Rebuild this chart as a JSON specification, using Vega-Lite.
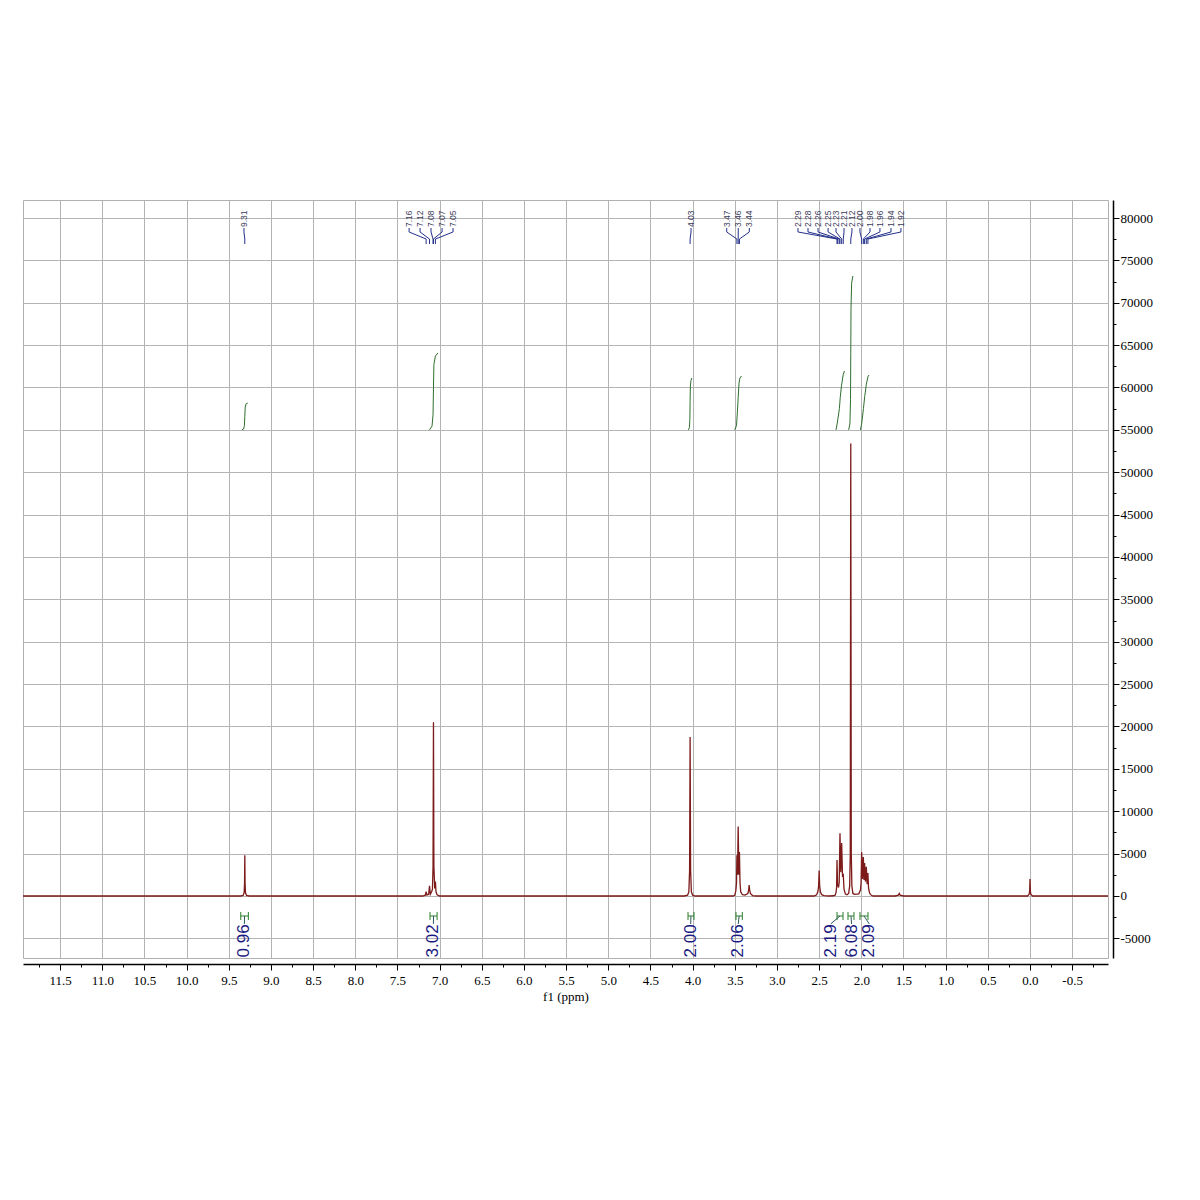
{
  "$schema": "https://vega.github.io/schema/vega-lite/v6.json",
  "width": 1085,
  "height": 758,
  "autosize": {"type": "none"},
  "padding": {"left": 23, "top": 200, "right": 92, "bottom": 242},
  "background": "white",
  "config": {"view": {"stroke": "#b0b0b0", "strokeWidth": 1}, "font": "Liberation Serif"},
  "datasets": {
    "spec": [
      {"ppm": 11.94, "v": 0}, {"ppm": 9.36, "v": 0}, {"ppm": 9.33, "v": 60}, {"ppm": 9.318, "v": 400}, {"ppm": 9.313, "v": 1500}, {"ppm": 9.31, "v": 4800}, {"ppm": 9.307, "v": 1500}, {"ppm": 9.302, "v": 400}, {"ppm": 9.29, "v": 60}, {"ppm": 9.26, "v": 0},
      {"ppm": 7.2, "v": 0}, {"ppm": 7.17, "v": 100}, {"ppm": 7.16, "v": 500}, {"ppm": 7.15, "v": 100}, {"ppm": 7.13, "v": 200}, {"ppm": 7.12, "v": 1200}, {"ppm": 7.11, "v": 200}, {"ppm": 7.095, "v": 500}, {"ppm": 7.085, "v": 800}, {"ppm": 7.078, "v": 3500}, {"ppm": 7.073, "v": 20500}, {"ppm": 7.068, "v": 3500}, {"ppm": 7.058, "v": 900}, {"ppm": 7.05, "v": 1700}, {"ppm": 7.043, "v": 500}, {"ppm": 7.03, "v": 150}, {"ppm": 7.0, "v": 0},
      {"ppm": 4.1, "v": 0}, {"ppm": 4.06, "v": 100}, {"ppm": 4.045, "v": 500}, {"ppm": 4.036, "v": 3000}, {"ppm": 4.03, "v": 18760}, {"ppm": 4.024, "v": 3000}, {"ppm": 4.015, "v": 500}, {"ppm": 4.0, "v": 100}, {"ppm": 3.97, "v": 0},
      {"ppm": 3.52, "v": 0}, {"ppm": 3.5, "v": 100}, {"ppm": 3.488, "v": 600}, {"ppm": 3.48, "v": 1500}, {"ppm": 3.475, "v": 4800}, {"ppm": 3.468, "v": 2500}, {"ppm": 3.46, "v": 8200}, {"ppm": 3.452, "v": 2500}, {"ppm": 3.445, "v": 5200}, {"ppm": 3.438, "v": 1500}, {"ppm": 3.43, "v": 500}, {"ppm": 3.41, "v": 150}, {"ppm": 3.38, "v": 100}, {"ppm": 3.345, "v": 300}, {"ppm": 3.336, "v": 700}, {"ppm": 3.33, "v": 1300}, {"ppm": 3.324, "v": 700}, {"ppm": 3.315, "v": 300}, {"ppm": 3.29, "v": 50}, {"ppm": 3.25, "v": 0},
      {"ppm": 2.56, "v": 0}, {"ppm": 2.53, "v": 150}, {"ppm": 2.515, "v": 500}, {"ppm": 2.506, "v": 1200}, {"ppm": 2.5, "v": 3000}, {"ppm": 2.494, "v": 1200}, {"ppm": 2.485, "v": 500}, {"ppm": 2.47, "v": 150}, {"ppm": 2.44, "v": 50},
      {"ppm": 2.38, "v": 0}, {"ppm": 2.33, "v": 30}, {"ppm": 2.31, "v": 100}, {"ppm": 2.3, "v": 400}, {"ppm": 2.293, "v": 1000}, {"ppm": 2.288, "v": 4250}, {"ppm": 2.282, "v": 1400}, {"ppm": 2.27, "v": 1000}, {"ppm": 2.262, "v": 1600}, {"ppm": 2.253, "v": 7400}, {"ppm": 2.243, "v": 2800}, {"ppm": 2.233, "v": 6250}, {"ppm": 2.223, "v": 2400}, {"ppm": 2.214, "v": 2500}, {"ppm": 2.205, "v": 800}, {"ppm": 2.19, "v": 250}, {"ppm": 2.17, "v": 150},
      {"ppm": 2.15, "v": 300}, {"ppm": 2.138, "v": 1200}, {"ppm": 2.131, "v": 5000}, {"ppm": 2.125, "v": 53400}, {"ppm": 2.119, "v": 5000}, {"ppm": 2.112, "v": 1200}, {"ppm": 2.1, "v": 300}, {"ppm": 2.08, "v": 200},
      {"ppm": 2.03, "v": 250}, {"ppm": 2.01, "v": 700}, {"ppm": 2.003, "v": 1500}, {"ppm": 1.996, "v": 5200}, {"ppm": 1.986, "v": 2000}, {"ppm": 1.976, "v": 4600}, {"ppm": 1.968, "v": 1900}, {"ppm": 1.961, "v": 3900}, {"ppm": 1.951, "v": 1700}, {"ppm": 1.941, "v": 3450}, {"ppm": 1.931, "v": 1400}, {"ppm": 1.922, "v": 2700}, {"ppm": 1.914, "v": 900}, {"ppm": 1.9, "v": 300}, {"ppm": 1.88, "v": 80}, {"ppm": 1.86, "v": 0},
      {"ppm": 1.6, "v": 0}, {"ppm": 1.56, "v": 100}, {"ppm": 1.55, "v": 300}, {"ppm": 1.54, "v": 100}, {"ppm": 1.5, "v": 0},
      {"ppm": 0.03, "v": 0}, {"ppm": 0.01, "v": 200}, {"ppm": 0.004, "v": 600}, {"ppm": 0.0, "v": 2000}, {"ppm": -0.004, "v": 600}, {"ppm": -0.01, "v": 200}, {"ppm": -0.03, "v": 0}, {"ppm": -0.925, "v": 0}
    ],
    "integ": [
      {"g": "a", "ppm": 9.345, "v": 55000}, {"g": "a", "ppm": 9.325, "v": 55100}, {"g": "a", "ppm": 9.315, "v": 55480}, {"g": "a", "ppm": 9.31, "v": 56585}, {"g": "a", "ppm": 9.305, "v": 57690}, {"g": "a", "ppm": 9.295, "v": 58075}, {"g": "a", "ppm": 9.275, "v": 58170},
      {"g": "b", "ppm": 7.12, "v": 55000}, {"g": "b", "ppm": 7.09, "v": 55450}, {"g": "b", "ppm": 7.078, "v": 56810}, {"g": "b", "ppm": 7.073, "v": 59990}, {"g": "b", "ppm": 7.068, "v": 62710}, {"g": "b", "ppm": 7.05, "v": 63710}, {"g": "b", "ppm": 7.02, "v": 64070},
      {"g": "c", "ppm": 4.05, "v": 55000}, {"g": "c", "ppm": 4.038, "v": 55300}, {"g": "c", "ppm": 4.033, "v": 56220}, {"g": "c", "ppm": 4.03, "v": 58370}, {"g": "c", "ppm": 4.027, "v": 60160}, {"g": "c", "ppm": 4.02, "v": 60820}, {"g": "c", "ppm": 4.01, "v": 61120},
      {"g": "d", "ppm": 3.5, "v": 55000}, {"g": "d", "ppm": 3.48, "v": 55500}, {"g": "d", "ppm": 3.47, "v": 57000}, {"g": "d", "ppm": 3.46, "v": 58800}, {"g": "d", "ppm": 3.45, "v": 60500}, {"g": "d", "ppm": 3.44, "v": 61100}, {"g": "d", "ppm": 3.42, "v": 61360},
      {"g": "e", "ppm": 2.3, "v": 55000}, {"g": "e", "ppm": 2.285, "v": 55800}, {"g": "e", "ppm": 2.26, "v": 57500}, {"g": "e", "ppm": 2.25, "v": 58800}, {"g": "e", "ppm": 2.235, "v": 60200}, {"g": "e", "ppm": 2.215, "v": 61500}, {"g": "e", "ppm": 2.2, "v": 61950},
      {"g": "f", "ppm": 2.15, "v": 55000}, {"g": "f", "ppm": 2.135, "v": 55700}, {"g": "f", "ppm": 2.128, "v": 58600}, {"g": "f", "ppm": 2.125, "v": 64000}, {"g": "f", "ppm": 2.122, "v": 69400}, {"g": "f", "ppm": 2.115, "v": 72300}, {"g": "f", "ppm": 2.1, "v": 73160},
      {"g": "h", "ppm": 2.01, "v": 55000}, {"g": "h", "ppm": 1.995, "v": 55800}, {"g": "h", "ppm": 1.975, "v": 57500}, {"g": "h", "ppm": 1.96, "v": 58900}, {"g": "h", "ppm": 1.94, "v": 60400}, {"g": "h", "ppm": 1.92, "v": 61300}, {"g": "h", "ppm": 1.91, "v": 61470}
    ],
    "plabels": [
      {"t": "9.31", "ppm": 9.32, "peak": 9.31, "top": 78940, "y1": 78820, "y2": 78350, "y3": 77520, "y4": 76930},
      {"t": "7.16", "ppm": 7.362, "peak": 7.16, "top": 78940, "y1": 78820, "y2": 78350, "y3": 77520, "y4": 76930},
      {"t": "7.12", "ppm": 7.232, "peak": 7.12, "top": 78940, "y1": 78820, "y2": 78350, "y3": 77520, "y4": 76930},
      {"t": "7.08", "ppm": 7.102, "peak": 7.078, "top": 78940, "y1": 78820, "y2": 78350, "y3": 77520, "y4": 76930},
      {"t": "7.07", "ppm": 6.971, "peak": 7.073, "top": 78940, "y1": 78820, "y2": 78350, "y3": 77520, "y4": 76930},
      {"t": "7.05", "ppm": 6.841, "peak": 7.05, "top": 78940, "y1": 78820, "y2": 78350, "y3": 77520, "y4": 76930},
      {"t": "4.03", "ppm": 4.019, "peak": 4.03, "top": 78940, "y1": 78820, "y2": 78350, "y3": 77520, "y4": 76930},
      {"t": "3.47", "ppm": 3.596, "peak": 3.475, "top": 78940, "y1": 78820, "y2": 78350, "y3": 77520, "y4": 76930},
      {"t": "3.46", "ppm": 3.459, "peak": 3.46, "top": 78940, "y1": 78820, "y2": 78350, "y3": 77520, "y4": 76930},
      {"t": "3.44", "ppm": 3.328, "peak": 3.445, "top": 78940, "y1": 78820, "y2": 78350, "y3": 77520, "y4": 76930},
      {"t": "2.29", "ppm": 2.751, "peak": 2.288, "top": 78940, "y1": 78820, "y2": 78350, "y3": 77520, "y4": 76930},
      {"t": "2.28", "ppm": 2.632, "peak": 2.28, "top": 78940, "y1": 78820, "y2": 78350, "y3": 77520, "y4": 76930},
      {"t": "2.26", "ppm": 2.513, "peak": 2.262, "top": 78940, "y1": 78820, "y2": 78350, "y3": 77520, "y4": 76930},
      {"t": "2.25", "ppm": 2.394, "peak": 2.253, "top": 78940, "y1": 78820, "y2": 78350, "y3": 77520, "y4": 76930},
      {"t": "2.23", "ppm": 2.3, "peak": 2.233, "top": 78940, "y1": 78820, "y2": 78350, "y3": 77520, "y4": 76930},
      {"t": "2.21", "ppm": 2.205, "peak": 2.214, "top": 78940, "y1": 78820, "y2": 78350, "y3": 77520, "y4": 76930},
      {"t": "2.12", "ppm": 2.111, "peak": 2.125, "top": 78940, "y1": 78820, "y2": 78350, "y3": 77520, "y4": 76930},
      {"t": "2.00", "ppm": 2.016, "peak": 1.996, "top": 78940, "y1": 78820, "y2": 78350, "y3": 77520, "y4": 76930},
      {"t": "1.98", "ppm": 1.897, "peak": 1.976, "top": 78940, "y1": 78820, "y2": 78350, "y3": 77520, "y4": 76930},
      {"t": "1.96", "ppm": 1.779, "peak": 1.961, "top": 78940, "y1": 78820, "y2": 78350, "y3": 77520, "y4": 76930},
      {"t": "1.94", "ppm": 1.648, "peak": 1.941, "top": 78940, "y1": 78820, "y2": 78350, "y3": 77520, "y4": 76930},
      {"t": "1.92", "ppm": 1.53, "peak": 1.922, "top": 78940, "y1": 78820, "y2": 78350, "y3": 77520, "y4": 76930}
    ],
    "ilabels": [
      {"t": "0.96", "lo": 9.358, "hi": 9.268, "mid": 9.313, "ppm": 9.315, "vb": -2360, "c1": -1890, "c2": -2830, "vl": -3300, "vt": -7250},
      {"t": "3.02", "lo": 7.114, "hi": 7.03, "mid": 7.072, "ppm": 7.074, "vb": -2360, "c1": -1890, "c2": -2830, "vl": -3300, "vt": -7250},
      {"t": "2.00", "lo": 4.055, "hi": 3.984, "mid": 4.02, "ppm": 4.023, "vb": -2360, "c1": -1890, "c2": -2830, "vl": -3300, "vt": -7250},
      {"t": "2.06", "lo": 3.486, "hi": 3.411, "mid": 3.449, "ppm": 3.459, "vb": -2360, "c1": -1890, "c2": -2830, "vl": -3300, "vt": -7250},
      {"t": "2.19", "lo": 2.288, "hi": 2.217, "mid": 2.253, "ppm": 2.363, "vb": -2360, "c1": -1890, "c2": -2830, "vl": -3300, "vt": -7250},
      {"t": "6.08", "lo": 2.158, "hi": 2.087, "mid": 2.123, "ppm": 2.115, "vb": -2360, "c1": -1890, "c2": -2830, "vl": -3300, "vt": -7250},
      {"t": "2.09", "lo": 2.016, "hi": 1.921, "mid": 1.968, "ppm": 1.905, "vb": -2360, "c1": -1890, "c2": -2830, "vl": -3300, "vt": -7250}
    ]
  },
  "encoding": {
    "x": {
      "field": "ppm", "type": "quantitative",
      "scale": {"domain": [-0.925, 11.94], "reverse": true, "nice": false, "zero": false},
      "axis": {
        "values": [-0.75, -0.5, -0.25, 0, 0.25, 0.5, 0.75, 1, 1.25, 1.5, 1.75, 2, 2.25, 2.5, 2.75, 3, 3.25, 3.5, 3.75, 4, 4.25, 4.5, 4.75, 5, 5.25, 5.5, 5.75, 6, 6.25, 6.5, 6.75, 7, 7.25, 7.5, 7.75, 8, 8.25, 8.5, 8.75, 9, 9.25, 9.5, 9.75, 10, 10.25, 10.5, 10.75, 11, 11.25, 11.5, 11.75],
        "labelExpr": "datum.value % 0.5 == 0 ? (datum.value < 0 ? '-' + format(-datum.value, '.1f') : format(datum.value, '.1f')) : ''",
        "tickSize": {"condition": {"test": "datum.value % 0.5 == 0", "value": 6}, "value": 3},
        "gridOpacity": {"condition": {"test": "datum.value % 0.5 == 0", "value": 1}, "value": 0},
        "grid": true, "gridColor": "#b4b4b4", "gridWidth": 1,
        "domainColor": "black", "domainWidth": 1.5, "tickColor": "black", "tickWidth": 1,
        "labelFont": "Liberation Serif", "labelFontSize": 13, "labelColor": "black", "labelPadding": 4,
        "labelFlush": false, "labelOverlap": false, "labelBound": false,
        "offset": 6,
        "title": "f1 (ppm)", "titleFont": "Liberation Serif", "titleFontSize": 13, "titleFontWeight": "normal", "titleColor": "black", "titlePadding": 3
      }
    },
    "y": {
      "field": "v", "type": "quantitative",
      "scale": {"domain": [-7316, 82124], "nice": false, "zero": false},
      "axis": {
        "orient": "right",
        "values": [-5000, -2500, 0, 2500, 5000, 7500, 10000, 12500, 15000, 17500, 20000, 22500, 25000, 27500, 30000, 32500, 35000, 37500, 40000, 42500, 45000, 47500, 50000, 52500, 55000, 57500, 60000, 62500, 65000, 67500, 70000, 72500, 75000, 77500, 80000],
        "labelExpr": "datum.value % 5000 == 0 ? (datum.value < 0 ? '-' + (-datum.value) : '' + datum.value) : ''",
        "tickSize": {"condition": {"test": "datum.value % 5000 == 0", "value": 6}, "value": 3},
        "gridOpacity": {"condition": {"test": "datum.value % 5000 == 0", "value": 1}, "value": 0},
        "grid": true, "gridColor": "#b4b4b4", "gridWidth": 1,
        "domainColor": "black", "domainWidth": 1.5, "tickColor": "black", "tickWidth": 1,
        "labelFont": "Liberation Serif", "labelFontSize": 13, "labelColor": "black", "labelPadding": 1,
        "labelOverlap": false, "labelBound": false,
        "offset": 5,
        "title": null
      }
    }
  },
  "layer": [
    {
      "data": {"name": "spec"},
      "mark": {"type": "line", "color": "#7d1a1a", "strokeWidth": 1.3}
    },
    {
      "data": {"name": "integ"},
      "mark": {"type": "line", "color": "#2f6e2f", "strokeWidth": 1},
      "encoding": {"detail": {"field": "g"}}
    },
    {
      "data": {"name": "plabels"},
      "mark": {"type": "rule", "color": "#24308a", "strokeWidth": 1},
      "encoding": {"y": {"field": "y1", "type": "quantitative"}, "y2": {"field": "y2"}}
    },
    {
      "data": {"name": "plabels"},
      "mark": {"type": "rule", "color": "#24308a", "strokeWidth": 1},
      "encoding": {"y": {"field": "y2", "type": "quantitative"}, "x2": {"field": "peak"}, "y2": {"field": "y3"}}
    },
    {
      "data": {"name": "plabels"},
      "mark": {"type": "rule", "color": "#24308a", "strokeWidth": 1},
      "encoding": {"x": {"field": "peak", "type": "quantitative"}, "y": {"field": "y3", "type": "quantitative"}, "y2": {"field": "y4"}}
    },
    {
      "data": {"name": "plabels"},
      "mark": {"type": "text", "angle": 270, "align": "left", "baseline": "middle", "font": "Liberation Sans", "fontSize": 8.5, "color": "#3a3a5a"},
      "encoding": {"y": {"field": "top", "type": "quantitative"}, "text": {"field": "t"}}
    },
    {
      "data": {"name": "ilabels"},
      "mark": {"type": "rule", "color": "#2a7d2a", "strokeWidth": 1},
      "encoding": {"x": {"field": "lo", "type": "quantitative"}, "x2": {"field": "hi"}, "y": {"field": "vb", "type": "quantitative"}}
    },
    {
      "data": {"name": "ilabels"},
      "mark": {"type": "rule", "color": "#2a7d2a", "strokeWidth": 1},
      "encoding": {"x": {"field": "lo", "type": "quantitative"}, "y": {"field": "c1", "type": "quantitative"}, "y2": {"field": "c2"}}
    },
    {
      "data": {"name": "ilabels"},
      "mark": {"type": "rule", "color": "#2a7d2a", "strokeWidth": 1},
      "encoding": {"x": {"field": "hi", "type": "quantitative"}, "y": {"field": "c1", "type": "quantitative"}, "y2": {"field": "c2"}}
    },
    {
      "data": {"name": "ilabels"},
      "mark": {"type": "rule", "color": "#2a5a5a", "strokeWidth": 1},
      "encoding": {"x": {"field": "mid", "type": "quantitative"}, "y": {"field": "vb", "type": "quantitative"}, "x2": {"field": "ppm"}, "y2": {"field": "vl"}}
    },
    {
      "data": {"name": "ilabels"},
      "mark": {"type": "text", "angle": 270, "align": "left", "baseline": "middle", "font": "Liberation Sans", "fontSize": 17, "color": "#1b1b82"},
      "encoding": {"y": {"field": "vt", "type": "quantitative"}, "text": {"field": "t"}}
    }
  ]
}
